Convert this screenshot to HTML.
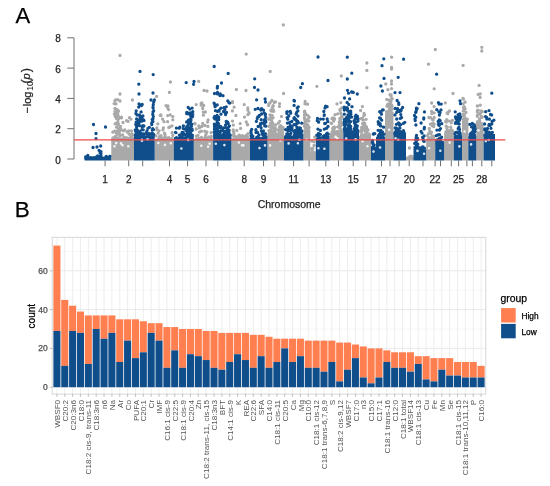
<!DOCTYPE html><html><head><meta charset="utf-8"><style>html,body{margin:0;padding:0;background:#fff;width:550px;height:486px;overflow:hidden;position:relative}</style></head><body><svg width="550" height="486" viewBox="0 0 550 486" style="position:absolute;left:0;top:0;will-change:transform;filter:blur(0.35px);font-family:'Liberation Sans', sans-serif"><rect width="550" height="486" fill="#fff"/><text x="15.4" y="22.9" font-size="22" fill="#000" stroke="#000" stroke-width="0.25">A</text><text x="14.8" y="217.4" font-size="22.5" fill="#000" stroke="#000" stroke-width="0.25">B</text><line x1="52.2" x2="485.8" y1="367.80" y2="367.80" stroke="#F2F2F2" stroke-width="0.6"/><line x1="52.2" x2="485.8" y1="329.00" y2="329.00" stroke="#F2F2F2" stroke-width="0.6"/><line x1="52.2" x2="485.8" y1="290.20" y2="290.20" stroke="#F2F2F2" stroke-width="0.6"/><line x1="52.2" x2="485.8" y1="251.40" y2="251.40" stroke="#F2F2F2" stroke-width="0.6"/><line x1="52.2" x2="485.8" y1="387.20" y2="387.20" stroke="#E6E6E6" stroke-width="0.9"/><line x1="52.2" x2="485.8" y1="348.40" y2="348.40" stroke="#E6E6E6" stroke-width="0.9"/><line x1="52.2" x2="485.8" y1="309.60" y2="309.60" stroke="#E6E6E6" stroke-width="0.9"/><line x1="52.2" x2="485.8" y1="270.80" y2="270.80" stroke="#E6E6E6" stroke-width="0.9"/><line x1="56.91" x2="56.91" y1="237.3" y2="394.1" stroke="#EBEBEB" stroke-width="0.9"/><line x1="64.77" x2="64.77" y1="237.3" y2="394.1" stroke="#EBEBEB" stroke-width="0.9"/><line x1="72.62" x2="72.62" y1="237.3" y2="394.1" stroke="#EBEBEB" stroke-width="0.9"/><line x1="80.48" x2="80.48" y1="237.3" y2="394.1" stroke="#EBEBEB" stroke-width="0.9"/><line x1="88.33" x2="88.33" y1="237.3" y2="394.1" stroke="#EBEBEB" stroke-width="0.9"/><line x1="96.19" x2="96.19" y1="237.3" y2="394.1" stroke="#EBEBEB" stroke-width="0.9"/><line x1="104.04" x2="104.04" y1="237.3" y2="394.1" stroke="#EBEBEB" stroke-width="0.9"/><line x1="111.90" x2="111.90" y1="237.3" y2="394.1" stroke="#EBEBEB" stroke-width="0.9"/><line x1="119.75" x2="119.75" y1="237.3" y2="394.1" stroke="#EBEBEB" stroke-width="0.9"/><line x1="127.61" x2="127.61" y1="237.3" y2="394.1" stroke="#EBEBEB" stroke-width="0.9"/><line x1="135.46" x2="135.46" y1="237.3" y2="394.1" stroke="#EBEBEB" stroke-width="0.9"/><line x1="143.32" x2="143.32" y1="237.3" y2="394.1" stroke="#EBEBEB" stroke-width="0.9"/><line x1="151.17" x2="151.17" y1="237.3" y2="394.1" stroke="#EBEBEB" stroke-width="0.9"/><line x1="159.03" x2="159.03" y1="237.3" y2="394.1" stroke="#EBEBEB" stroke-width="0.9"/><line x1="166.88" x2="166.88" y1="237.3" y2="394.1" stroke="#EBEBEB" stroke-width="0.9"/><line x1="174.74" x2="174.74" y1="237.3" y2="394.1" stroke="#EBEBEB" stroke-width="0.9"/><line x1="182.59" x2="182.59" y1="237.3" y2="394.1" stroke="#EBEBEB" stroke-width="0.9"/><line x1="190.45" x2="190.45" y1="237.3" y2="394.1" stroke="#EBEBEB" stroke-width="0.9"/><line x1="198.30" x2="198.30" y1="237.3" y2="394.1" stroke="#EBEBEB" stroke-width="0.9"/><line x1="206.16" x2="206.16" y1="237.3" y2="394.1" stroke="#EBEBEB" stroke-width="0.9"/><line x1="214.01" x2="214.01" y1="237.3" y2="394.1" stroke="#EBEBEB" stroke-width="0.9"/><line x1="221.87" x2="221.87" y1="237.3" y2="394.1" stroke="#EBEBEB" stroke-width="0.9"/><line x1="229.72" x2="229.72" y1="237.3" y2="394.1" stroke="#EBEBEB" stroke-width="0.9"/><line x1="237.58" x2="237.58" y1="237.3" y2="394.1" stroke="#EBEBEB" stroke-width="0.9"/><line x1="245.43" x2="245.43" y1="237.3" y2="394.1" stroke="#EBEBEB" stroke-width="0.9"/><line x1="253.29" x2="253.29" y1="237.3" y2="394.1" stroke="#EBEBEB" stroke-width="0.9"/><line x1="261.14" x2="261.14" y1="237.3" y2="394.1" stroke="#EBEBEB" stroke-width="0.9"/><line x1="269.00" x2="269.00" y1="237.3" y2="394.1" stroke="#EBEBEB" stroke-width="0.9"/><line x1="276.86" x2="276.86" y1="237.3" y2="394.1" stroke="#EBEBEB" stroke-width="0.9"/><line x1="284.71" x2="284.71" y1="237.3" y2="394.1" stroke="#EBEBEB" stroke-width="0.9"/><line x1="292.57" x2="292.57" y1="237.3" y2="394.1" stroke="#EBEBEB" stroke-width="0.9"/><line x1="300.42" x2="300.42" y1="237.3" y2="394.1" stroke="#EBEBEB" stroke-width="0.9"/><line x1="308.28" x2="308.28" y1="237.3" y2="394.1" stroke="#EBEBEB" stroke-width="0.9"/><line x1="316.13" x2="316.13" y1="237.3" y2="394.1" stroke="#EBEBEB" stroke-width="0.9"/><line x1="323.99" x2="323.99" y1="237.3" y2="394.1" stroke="#EBEBEB" stroke-width="0.9"/><line x1="331.84" x2="331.84" y1="237.3" y2="394.1" stroke="#EBEBEB" stroke-width="0.9"/><line x1="339.70" x2="339.70" y1="237.3" y2="394.1" stroke="#EBEBEB" stroke-width="0.9"/><line x1="347.55" x2="347.55" y1="237.3" y2="394.1" stroke="#EBEBEB" stroke-width="0.9"/><line x1="355.41" x2="355.41" y1="237.3" y2="394.1" stroke="#EBEBEB" stroke-width="0.9"/><line x1="363.26" x2="363.26" y1="237.3" y2="394.1" stroke="#EBEBEB" stroke-width="0.9"/><line x1="371.12" x2="371.12" y1="237.3" y2="394.1" stroke="#EBEBEB" stroke-width="0.9"/><line x1="378.97" x2="378.97" y1="237.3" y2="394.1" stroke="#EBEBEB" stroke-width="0.9"/><line x1="386.83" x2="386.83" y1="237.3" y2="394.1" stroke="#EBEBEB" stroke-width="0.9"/><line x1="394.68" x2="394.68" y1="237.3" y2="394.1" stroke="#EBEBEB" stroke-width="0.9"/><line x1="402.54" x2="402.54" y1="237.3" y2="394.1" stroke="#EBEBEB" stroke-width="0.9"/><line x1="410.39" x2="410.39" y1="237.3" y2="394.1" stroke="#EBEBEB" stroke-width="0.9"/><line x1="418.25" x2="418.25" y1="237.3" y2="394.1" stroke="#EBEBEB" stroke-width="0.9"/><line x1="426.10" x2="426.10" y1="237.3" y2="394.1" stroke="#EBEBEB" stroke-width="0.9"/><line x1="433.96" x2="433.96" y1="237.3" y2="394.1" stroke="#EBEBEB" stroke-width="0.9"/><line x1="441.81" x2="441.81" y1="237.3" y2="394.1" stroke="#EBEBEB" stroke-width="0.9"/><line x1="449.67" x2="449.67" y1="237.3" y2="394.1" stroke="#EBEBEB" stroke-width="0.9"/><line x1="457.52" x2="457.52" y1="237.3" y2="394.1" stroke="#EBEBEB" stroke-width="0.9"/><line x1="465.38" x2="465.38" y1="237.3" y2="394.1" stroke="#EBEBEB" stroke-width="0.9"/><line x1="473.23" x2="473.23" y1="237.3" y2="394.1" stroke="#EBEBEB" stroke-width="0.9"/><line x1="481.09" x2="481.09" y1="237.3" y2="394.1" stroke="#EBEBEB" stroke-width="0.9"/><rect x="53.38" y="245.58" width="7.07" height="85.36" fill="#FF7F50"/><rect x="53.38" y="330.94" width="7.07" height="56.26" fill="#104E8B"/><rect x="61.23" y="299.90" width="7.07" height="65.96" fill="#FF7F50"/><rect x="61.23" y="365.86" width="7.07" height="21.34" fill="#104E8B"/><rect x="69.09" y="305.72" width="7.07" height="25.22" fill="#FF7F50"/><rect x="69.09" y="330.94" width="7.07" height="56.26" fill="#104E8B"/><rect x="76.94" y="311.54" width="7.07" height="21.34" fill="#FF7F50"/><rect x="76.94" y="332.88" width="7.07" height="54.32" fill="#104E8B"/><rect x="84.80" y="315.42" width="7.07" height="48.50" fill="#FF7F50"/><rect x="84.80" y="363.92" width="7.07" height="23.28" fill="#104E8B"/><rect x="92.65" y="315.42" width="7.07" height="13.58" fill="#FF7F50"/><rect x="92.65" y="329.00" width="7.07" height="58.20" fill="#104E8B"/><rect x="100.51" y="315.42" width="7.07" height="23.28" fill="#FF7F50"/><rect x="100.51" y="338.70" width="7.07" height="48.50" fill="#104E8B"/><rect x="108.36" y="315.42" width="7.07" height="17.46" fill="#FF7F50"/><rect x="108.36" y="332.88" width="7.07" height="54.32" fill="#104E8B"/><rect x="116.22" y="319.30" width="7.07" height="42.68" fill="#FF7F50"/><rect x="116.22" y="361.98" width="7.07" height="25.22" fill="#104E8B"/><rect x="124.07" y="319.30" width="7.07" height="21.34" fill="#FF7F50"/><rect x="124.07" y="340.64" width="7.07" height="46.56" fill="#104E8B"/><rect x="131.93" y="319.30" width="7.07" height="38.80" fill="#FF7F50"/><rect x="131.93" y="358.10" width="7.07" height="29.10" fill="#104E8B"/><rect x="139.78" y="321.24" width="7.07" height="31.04" fill="#FF7F50"/><rect x="139.78" y="352.28" width="7.07" height="34.92" fill="#104E8B"/><rect x="147.64" y="323.18" width="7.07" height="9.70" fill="#FF7F50"/><rect x="147.64" y="332.88" width="7.07" height="54.32" fill="#104E8B"/><rect x="155.49" y="323.18" width="7.07" height="17.46" fill="#FF7F50"/><rect x="155.49" y="340.64" width="7.07" height="46.56" fill="#104E8B"/><rect x="163.35" y="327.06" width="7.07" height="40.74" fill="#FF7F50"/><rect x="163.35" y="367.80" width="7.07" height="19.40" fill="#104E8B"/><rect x="171.20" y="327.06" width="7.07" height="23.28" fill="#FF7F50"/><rect x="171.20" y="350.34" width="7.07" height="36.86" fill="#104E8B"/><rect x="179.06" y="329.00" width="7.07" height="38.80" fill="#FF7F50"/><rect x="179.06" y="367.80" width="7.07" height="19.40" fill="#104E8B"/><rect x="186.91" y="329.00" width="7.07" height="25.22" fill="#FF7F50"/><rect x="186.91" y="354.22" width="7.07" height="32.98" fill="#104E8B"/><rect x="194.77" y="329.00" width="7.07" height="27.16" fill="#FF7F50"/><rect x="194.77" y="356.16" width="7.07" height="31.04" fill="#104E8B"/><rect x="202.62" y="330.94" width="7.07" height="29.10" fill="#FF7F50"/><rect x="202.62" y="360.04" width="7.07" height="27.16" fill="#104E8B"/><rect x="210.48" y="330.94" width="7.07" height="36.86" fill="#FF7F50"/><rect x="210.48" y="367.80" width="7.07" height="19.40" fill="#104E8B"/><rect x="218.33" y="332.88" width="7.07" height="36.86" fill="#FF7F50"/><rect x="218.33" y="369.74" width="7.07" height="17.46" fill="#104E8B"/><rect x="226.19" y="332.88" width="7.07" height="29.10" fill="#FF7F50"/><rect x="226.19" y="361.98" width="7.07" height="25.22" fill="#104E8B"/><rect x="234.04" y="332.88" width="7.07" height="21.34" fill="#FF7F50"/><rect x="234.04" y="354.22" width="7.07" height="32.98" fill="#104E8B"/><rect x="241.90" y="332.88" width="7.07" height="27.16" fill="#FF7F50"/><rect x="241.90" y="360.04" width="7.07" height="27.16" fill="#104E8B"/><rect x="249.76" y="334.82" width="7.07" height="32.98" fill="#FF7F50"/><rect x="249.76" y="367.80" width="7.07" height="19.40" fill="#104E8B"/><rect x="257.61" y="334.82" width="7.07" height="21.34" fill="#FF7F50"/><rect x="257.61" y="356.16" width="7.07" height="31.04" fill="#104E8B"/><rect x="265.47" y="336.76" width="7.07" height="31.04" fill="#FF7F50"/><rect x="265.47" y="367.80" width="7.07" height="19.40" fill="#104E8B"/><rect x="273.32" y="338.70" width="7.07" height="23.28" fill="#FF7F50"/><rect x="273.32" y="361.98" width="7.07" height="25.22" fill="#104E8B"/><rect x="281.18" y="338.70" width="7.07" height="9.70" fill="#FF7F50"/><rect x="281.18" y="348.40" width="7.07" height="38.80" fill="#104E8B"/><rect x="289.03" y="338.70" width="7.07" height="23.28" fill="#FF7F50"/><rect x="289.03" y="361.98" width="7.07" height="25.22" fill="#104E8B"/><rect x="296.89" y="338.70" width="7.07" height="17.46" fill="#FF7F50"/><rect x="296.89" y="356.16" width="7.07" height="31.04" fill="#104E8B"/><rect x="304.74" y="340.64" width="7.07" height="27.16" fill="#FF7F50"/><rect x="304.74" y="367.80" width="7.07" height="19.40" fill="#104E8B"/><rect x="312.60" y="340.64" width="7.07" height="27.16" fill="#FF7F50"/><rect x="312.60" y="367.80" width="7.07" height="19.40" fill="#104E8B"/><rect x="320.45" y="340.64" width="7.07" height="31.04" fill="#FF7F50"/><rect x="320.45" y="371.68" width="7.07" height="15.52" fill="#104E8B"/><rect x="328.31" y="340.64" width="7.07" height="21.34" fill="#FF7F50"/><rect x="328.31" y="361.98" width="7.07" height="25.22" fill="#104E8B"/><rect x="336.16" y="342.58" width="7.07" height="38.80" fill="#FF7F50"/><rect x="336.16" y="381.38" width="7.07" height="5.82" fill="#104E8B"/><rect x="344.02" y="342.58" width="7.07" height="27.16" fill="#FF7F50"/><rect x="344.02" y="369.74" width="7.07" height="17.46" fill="#104E8B"/><rect x="351.87" y="344.52" width="7.07" height="13.58" fill="#FF7F50"/><rect x="351.87" y="358.10" width="7.07" height="29.10" fill="#104E8B"/><rect x="359.73" y="346.46" width="7.07" height="31.04" fill="#FF7F50"/><rect x="359.73" y="377.50" width="7.07" height="9.70" fill="#104E8B"/><rect x="367.58" y="348.40" width="7.07" height="34.92" fill="#FF7F50"/><rect x="367.58" y="383.32" width="7.07" height="3.88" fill="#104E8B"/><rect x="375.44" y="348.40" width="7.07" height="29.10" fill="#FF7F50"/><rect x="375.44" y="377.50" width="7.07" height="9.70" fill="#104E8B"/><rect x="383.29" y="350.34" width="7.07" height="11.64" fill="#FF7F50"/><rect x="383.29" y="361.98" width="7.07" height="25.22" fill="#104E8B"/><rect x="391.15" y="352.28" width="7.07" height="15.52" fill="#FF7F50"/><rect x="391.15" y="367.80" width="7.07" height="19.40" fill="#104E8B"/><rect x="399.00" y="352.28" width="7.07" height="15.52" fill="#FF7F50"/><rect x="399.00" y="367.80" width="7.07" height="19.40" fill="#104E8B"/><rect x="406.86" y="352.28" width="7.07" height="19.40" fill="#FF7F50"/><rect x="406.86" y="371.68" width="7.07" height="15.52" fill="#104E8B"/><rect x="414.71" y="356.16" width="7.07" height="7.76" fill="#FF7F50"/><rect x="414.71" y="363.92" width="7.07" height="23.28" fill="#104E8B"/><rect x="422.57" y="356.16" width="7.07" height="23.28" fill="#FF7F50"/><rect x="422.57" y="379.44" width="7.07" height="7.76" fill="#104E8B"/><rect x="430.42" y="358.10" width="7.07" height="23.28" fill="#FF7F50"/><rect x="430.42" y="381.38" width="7.07" height="5.82" fill="#104E8B"/><rect x="438.28" y="358.10" width="7.07" height="11.64" fill="#FF7F50"/><rect x="438.28" y="369.74" width="7.07" height="17.46" fill="#104E8B"/><rect x="446.13" y="358.10" width="7.07" height="17.46" fill="#FF7F50"/><rect x="446.13" y="375.56" width="7.07" height="11.64" fill="#104E8B"/><rect x="453.99" y="361.98" width="7.07" height="13.58" fill="#FF7F50"/><rect x="453.99" y="375.56" width="7.07" height="11.64" fill="#104E8B"/><rect x="461.84" y="361.98" width="7.07" height="15.52" fill="#FF7F50"/><rect x="461.84" y="377.50" width="7.07" height="9.70" fill="#104E8B"/><rect x="469.70" y="361.98" width="7.07" height="15.52" fill="#FF7F50"/><rect x="469.70" y="377.50" width="7.07" height="9.70" fill="#104E8B"/><rect x="477.55" y="365.86" width="7.07" height="11.64" fill="#FF7F50"/><rect x="477.55" y="377.50" width="7.07" height="9.70" fill="#104E8B"/><rect x="52.2" y="237.3" width="433.60" height="156.80" fill="none" stroke="#D2D2D2" stroke-width="0.9"/><line x1="49.900000000000006" x2="52.2" y1="387.20" y2="387.20" stroke="#B3B3B3" stroke-width="0.9"/><text x="47.7" y="390.20" font-size="8.5" fill="#4D4D4D" text-anchor="end" stroke="#4D4D4D" stroke-width="0.25">0</text><line x1="49.900000000000006" x2="52.2" y1="348.40" y2="348.40" stroke="#B3B3B3" stroke-width="0.9"/><text x="47.7" y="351.40" font-size="8.5" fill="#4D4D4D" text-anchor="end" stroke="#4D4D4D" stroke-width="0.25">20</text><line x1="49.900000000000006" x2="52.2" y1="309.60" y2="309.60" stroke="#B3B3B3" stroke-width="0.9"/><text x="47.7" y="312.60" font-size="8.5" fill="#4D4D4D" text-anchor="end" stroke="#4D4D4D" stroke-width="0.25">40</text><line x1="49.900000000000006" x2="52.2" y1="270.80" y2="270.80" stroke="#B3B3B3" stroke-width="0.9"/><text x="47.7" y="273.80" font-size="8.5" fill="#4D4D4D" text-anchor="end" stroke="#4D4D4D" stroke-width="0.25">60</text><line x1="56.91" x2="56.91" y1="394.1" y2="396.70000000000005" stroke="#B3B3B3" stroke-width="0.9"/><text transform="translate(60.01,399.9) rotate(-90)" font-size="8.1" fill="#555" text-anchor="end">WBSF0</text><line x1="64.77" x2="64.77" y1="394.1" y2="396.70000000000005" stroke="#B3B3B3" stroke-width="0.9"/><text transform="translate(67.87,399.9) rotate(-90)" font-size="8.1" fill="#555" text-anchor="end">C20:2</text><line x1="72.62" x2="72.62" y1="394.1" y2="396.70000000000005" stroke="#B3B3B3" stroke-width="0.9"/><text transform="translate(75.72,399.9) rotate(-90)" font-size="8.1" fill="#555" text-anchor="end">C20:3n6</text><line x1="80.48" x2="80.48" y1="394.1" y2="396.70000000000005" stroke="#B3B3B3" stroke-width="0.9"/><text transform="translate(83.58,399.9) rotate(-90)" font-size="8.1" fill="#555" text-anchor="end">C18:0</text><line x1="88.33" x2="88.33" y1="394.1" y2="396.70000000000005" stroke="#B3B3B3" stroke-width="0.9"/><text transform="translate(91.43,399.9) rotate(-90)" font-size="8.1" fill="#555" text-anchor="end">C18:2 cis-9, trans-11</text><line x1="96.19" x2="96.19" y1="394.1" y2="396.70000000000005" stroke="#B3B3B3" stroke-width="0.9"/><text transform="translate(99.29,399.9) rotate(-90)" font-size="8.1" fill="#555" text-anchor="end">C18:3n6</text><line x1="104.04" x2="104.04" y1="394.1" y2="396.70000000000005" stroke="#B3B3B3" stroke-width="0.9"/><text transform="translate(107.14,399.9) rotate(-90)" font-size="8.1" fill="#555" text-anchor="end">n6</text><line x1="111.90" x2="111.90" y1="394.1" y2="396.70000000000005" stroke="#B3B3B3" stroke-width="0.9"/><text transform="translate(115.00,399.9) rotate(-90)" font-size="8.1" fill="#555" text-anchor="end">Na</text><line x1="119.75" x2="119.75" y1="394.1" y2="396.70000000000005" stroke="#B3B3B3" stroke-width="0.9"/><text transform="translate(122.85,399.9) rotate(-90)" font-size="8.1" fill="#555" text-anchor="end">Ar</text><line x1="127.61" x2="127.61" y1="394.1" y2="396.70000000000005" stroke="#B3B3B3" stroke-width="0.9"/><text transform="translate(130.71,399.9) rotate(-90)" font-size="8.1" fill="#555" text-anchor="end">Co</text><line x1="135.46" x2="135.46" y1="394.1" y2="396.70000000000005" stroke="#B3B3B3" stroke-width="0.9"/><text transform="translate(138.56,399.9) rotate(-90)" font-size="8.1" fill="#555" text-anchor="end">PUFA</text><line x1="143.32" x2="143.32" y1="394.1" y2="396.70000000000005" stroke="#B3B3B3" stroke-width="0.9"/><text transform="translate(146.42,399.9) rotate(-90)" font-size="8.1" fill="#555" text-anchor="end">C20:1</text><line x1="151.17" x2="151.17" y1="394.1" y2="396.70000000000005" stroke="#B3B3B3" stroke-width="0.9"/><text transform="translate(154.27,399.9) rotate(-90)" font-size="8.1" fill="#555" text-anchor="end">Cr</text><line x1="159.03" x2="159.03" y1="394.1" y2="396.70000000000005" stroke="#B3B3B3" stroke-width="0.9"/><text transform="translate(162.13,399.9) rotate(-90)" font-size="8.1" fill="#555" text-anchor="end">IMF</text><line x1="166.88" x2="166.88" y1="394.1" y2="396.70000000000005" stroke="#B3B3B3" stroke-width="0.9"/><text transform="translate(169.98,399.9) rotate(-90)" font-size="8.1" fill="#555" text-anchor="end">C16:1 cis-9</text><line x1="174.74" x2="174.74" y1="394.1" y2="396.70000000000005" stroke="#B3B3B3" stroke-width="0.9"/><text transform="translate(177.84,399.9) rotate(-90)" font-size="8.1" fill="#555" text-anchor="end">C22:5</text><line x1="182.59" x2="182.59" y1="394.1" y2="396.70000000000005" stroke="#B3B3B3" stroke-width="0.9"/><text transform="translate(185.69,399.9) rotate(-90)" font-size="8.1" fill="#555" text-anchor="end">C18:1 cis-9</text><line x1="190.45" x2="190.45" y1="394.1" y2="396.70000000000005" stroke="#B3B3B3" stroke-width="0.9"/><text transform="translate(193.55,399.9) rotate(-90)" font-size="8.1" fill="#555" text-anchor="end">C20:4</text><line x1="198.30" x2="198.30" y1="394.1" y2="396.70000000000005" stroke="#B3B3B3" stroke-width="0.9"/><text transform="translate(201.40,399.9) rotate(-90)" font-size="8.1" fill="#555" text-anchor="end">Zn</text><line x1="206.16" x2="206.16" y1="394.1" y2="396.70000000000005" stroke="#B3B3B3" stroke-width="0.9"/><text transform="translate(209.26,399.9) rotate(-90)" font-size="8.1" fill="#555" text-anchor="end">C18:2 trans-11, cis-15</text><line x1="214.01" x2="214.01" y1="394.1" y2="396.70000000000005" stroke="#B3B3B3" stroke-width="0.9"/><text transform="translate(217.11,399.9) rotate(-90)" font-size="8.1" fill="#555" text-anchor="end">C18:3n3</text><line x1="221.87" x2="221.87" y1="394.1" y2="396.70000000000005" stroke="#B3B3B3" stroke-width="0.9"/><text transform="translate(224.97,399.9) rotate(-90)" font-size="8.1" fill="#555" text-anchor="end">BFT</text><line x1="229.72" x2="229.72" y1="394.1" y2="396.70000000000005" stroke="#B3B3B3" stroke-width="0.9"/><text transform="translate(232.82,399.9) rotate(-90)" font-size="8.1" fill="#555" text-anchor="end">C14:1 cis-9</text><line x1="237.58" x2="237.58" y1="394.1" y2="396.70000000000005" stroke="#B3B3B3" stroke-width="0.9"/><text transform="translate(240.68,399.9) rotate(-90)" font-size="8.1" fill="#555" text-anchor="end">K</text><line x1="245.43" x2="245.43" y1="394.1" y2="396.70000000000005" stroke="#B3B3B3" stroke-width="0.9"/><text transform="translate(248.53,399.9) rotate(-90)" font-size="8.1" fill="#555" text-anchor="end">REA</text><line x1="253.29" x2="253.29" y1="394.1" y2="396.70000000000005" stroke="#B3B3B3" stroke-width="0.9"/><text transform="translate(256.39,399.9) rotate(-90)" font-size="8.1" fill="#555" text-anchor="end">C22:6</text><line x1="261.14" x2="261.14" y1="394.1" y2="396.70000000000005" stroke="#B3B3B3" stroke-width="0.9"/><text transform="translate(264.24,399.9) rotate(-90)" font-size="8.1" fill="#555" text-anchor="end">SFA</text><line x1="269.00" x2="269.00" y1="394.1" y2="396.70000000000005" stroke="#B3B3B3" stroke-width="0.9"/><text transform="translate(272.10,399.9) rotate(-90)" font-size="8.1" fill="#555" text-anchor="end">C14:0</text><line x1="276.86" x2="276.86" y1="394.1" y2="396.70000000000005" stroke="#B3B3B3" stroke-width="0.9"/><text transform="translate(279.96,399.9) rotate(-90)" font-size="8.1" fill="#555" text-anchor="end">C18:1 cis-11</text><line x1="284.71" x2="284.71" y1="394.1" y2="396.70000000000005" stroke="#B3B3B3" stroke-width="0.9"/><text transform="translate(287.81,399.9) rotate(-90)" font-size="8.1" fill="#555" text-anchor="end">C20:5</text><line x1="292.57" x2="292.57" y1="394.1" y2="396.70000000000005" stroke="#B3B3B3" stroke-width="0.9"/><text transform="translate(295.67,399.9) rotate(-90)" font-size="8.1" fill="#555" text-anchor="end">Ca</text><line x1="300.42" x2="300.42" y1="394.1" y2="396.70000000000005" stroke="#B3B3B3" stroke-width="0.9"/><text transform="translate(303.52,399.9) rotate(-90)" font-size="8.1" fill="#555" text-anchor="end">Mg</text><line x1="308.28" x2="308.28" y1="394.1" y2="396.70000000000005" stroke="#B3B3B3" stroke-width="0.9"/><text transform="translate(311.38,399.9) rotate(-90)" font-size="8.1" fill="#555" text-anchor="end">C10:0</text><line x1="316.13" x2="316.13" y1="394.1" y2="396.70000000000005" stroke="#B3B3B3" stroke-width="0.9"/><text transform="translate(319.23,399.9) rotate(-90)" font-size="8.1" fill="#555" text-anchor="end">C18:1 cis-12</text><line x1="323.99" x2="323.99" y1="394.1" y2="396.70000000000005" stroke="#B3B3B3" stroke-width="0.9"/><text transform="translate(327.09,399.9) rotate(-90)" font-size="8.1" fill="#555" text-anchor="end">C18:1 trans-6,7,8,9</text><line x1="331.84" x2="331.84" y1="394.1" y2="396.70000000000005" stroke="#B3B3B3" stroke-width="0.9"/><text transform="translate(334.94,399.9) rotate(-90)" font-size="8.1" fill="#555" text-anchor="end">S</text><line x1="339.70" x2="339.70" y1="394.1" y2="396.70000000000005" stroke="#B3B3B3" stroke-width="0.9"/><text transform="translate(342.80,399.9) rotate(-90)" font-size="8.1" fill="#555" text-anchor="end">C18:2 cis-9,12</text><line x1="347.55" x2="347.55" y1="394.1" y2="396.70000000000005" stroke="#B3B3B3" stroke-width="0.9"/><text transform="translate(350.65,399.9) rotate(-90)" font-size="8.1" fill="#555" text-anchor="end">WBSF7</text><line x1="355.41" x2="355.41" y1="394.1" y2="396.70000000000005" stroke="#B3B3B3" stroke-width="0.9"/><text transform="translate(358.51,399.9) rotate(-90)" font-size="8.1" fill="#555" text-anchor="end">C17:0</text><line x1="363.26" x2="363.26" y1="394.1" y2="396.70000000000005" stroke="#B3B3B3" stroke-width="0.9"/><text transform="translate(366.36,399.9) rotate(-90)" font-size="8.1" fill="#555" text-anchor="end">n3</text><line x1="371.12" x2="371.12" y1="394.1" y2="396.70000000000005" stroke="#B3B3B3" stroke-width="0.9"/><text transform="translate(374.22,399.9) rotate(-90)" font-size="8.1" fill="#555" text-anchor="end">C15:0</text><line x1="378.97" x2="378.97" y1="394.1" y2="396.70000000000005" stroke="#B3B3B3" stroke-width="0.9"/><text transform="translate(382.07,399.9) rotate(-90)" font-size="8.1" fill="#555" text-anchor="end">C17:1</text><line x1="386.83" x2="386.83" y1="394.1" y2="396.70000000000005" stroke="#B3B3B3" stroke-width="0.9"/><text transform="translate(389.93,399.9) rotate(-90)" font-size="8.1" fill="#555" text-anchor="end">C18:1 trans-16</text><line x1="394.68" x2="394.68" y1="394.1" y2="396.70000000000005" stroke="#B3B3B3" stroke-width="0.9"/><text transform="translate(397.78,399.9) rotate(-90)" font-size="8.1" fill="#555" text-anchor="end">C12:0</text><line x1="402.54" x2="402.54" y1="394.1" y2="396.70000000000005" stroke="#B3B3B3" stroke-width="0.9"/><text transform="translate(405.64,399.9) rotate(-90)" font-size="8.1" fill="#555" text-anchor="end">C18:1 total</text><line x1="410.39" x2="410.39" y1="394.1" y2="396.70000000000005" stroke="#B3B3B3" stroke-width="0.9"/><text transform="translate(413.49,399.9) rotate(-90)" font-size="8.1" fill="#555" text-anchor="end">WBSF14</text><line x1="418.25" x2="418.25" y1="394.1" y2="396.70000000000005" stroke="#B3B3B3" stroke-width="0.9"/><text transform="translate(421.35,399.9) rotate(-90)" font-size="8.1" fill="#555" text-anchor="end">C18:1 cis-13</text><line x1="426.10" x2="426.10" y1="394.1" y2="396.70000000000005" stroke="#B3B3B3" stroke-width="0.9"/><text transform="translate(429.20,399.9) rotate(-90)" font-size="8.1" fill="#555" text-anchor="end">Cu</text><line x1="433.96" x2="433.96" y1="394.1" y2="396.70000000000005" stroke="#B3B3B3" stroke-width="0.9"/><text transform="translate(437.06,399.9) rotate(-90)" font-size="8.1" fill="#555" text-anchor="end">Fe</text><line x1="441.81" x2="441.81" y1="394.1" y2="396.70000000000005" stroke="#B3B3B3" stroke-width="0.9"/><text transform="translate(444.91,399.9) rotate(-90)" font-size="8.1" fill="#555" text-anchor="end">Mn</text><line x1="449.67" x2="449.67" y1="394.1" y2="396.70000000000005" stroke="#B3B3B3" stroke-width="0.9"/><text transform="translate(452.77,399.9) rotate(-90)" font-size="8.1" fill="#555" text-anchor="end">Se</text><line x1="457.52" x2="457.52" y1="394.1" y2="396.70000000000005" stroke="#B3B3B3" stroke-width="0.9"/><text transform="translate(460.62,399.9) rotate(-90)" font-size="8.1" fill="#555" text-anchor="end">C18:1 cis-15</text><line x1="465.38" x2="465.38" y1="394.1" y2="396.70000000000005" stroke="#B3B3B3" stroke-width="0.9"/><text transform="translate(468.48,399.9) rotate(-90)" font-size="8.1" fill="#555" text-anchor="end">C18:1 trans-10,11,12</text><line x1="473.23" x2="473.23" y1="394.1" y2="396.70000000000005" stroke="#B3B3B3" stroke-width="0.9"/><text transform="translate(476.33,399.9) rotate(-90)" font-size="8.1" fill="#555" text-anchor="end">P</text><line x1="481.09" x2="481.09" y1="394.1" y2="396.70000000000005" stroke="#B3B3B3" stroke-width="0.9"/><text transform="translate(484.19,399.9) rotate(-90)" font-size="8.1" fill="#555" text-anchor="end">C16:0</text><text transform="translate(35.4,316.2) rotate(-90)" font-size="10" fill="#000" text-anchor="middle" stroke="#000" stroke-width="0.25">count</text><text x="500.5" y="301.8" font-size="10.4" fill="#000" stroke="#000" stroke-width="0.25">group</text><rect x="501.1" y="308.1" width="14.6" height="14.4" fill="#FF7F50"/><rect x="501.1" y="323.9" width="14.6" height="14.4" fill="#104E8B"/><text x="521.5" y="318.8" font-size="8.3" fill="#000" stroke="#000" stroke-width="0.25">High</text><text x="521.5" y="334.5" font-size="8.3" fill="#000" stroke="#000" stroke-width="0.25">Low</text><line x1="74" x2="74" y1="37.80" y2="159.00" stroke="#707070" stroke-width="1"/><line x1="67.3" x2="74" y1="159.00" y2="159.00" stroke="#707070" stroke-width="1"/><text x="58" y="163.60" font-size="10" fill="#222" text-anchor="middle" stroke="#222" stroke-width="0.25">0</text><line x1="67.3" x2="74" y1="128.70" y2="128.70" stroke="#707070" stroke-width="1"/><text x="58" y="133.30" font-size="10" fill="#222" text-anchor="middle" stroke="#222" stroke-width="0.25">2</text><line x1="67.3" x2="74" y1="98.40" y2="98.40" stroke="#707070" stroke-width="1"/><text x="58" y="103.00" font-size="10" fill="#222" text-anchor="middle" stroke="#222" stroke-width="0.25">4</text><line x1="67.3" x2="74" y1="68.10" y2="68.10" stroke="#707070" stroke-width="1"/><text x="58" y="72.70" font-size="10" fill="#222" text-anchor="middle" stroke="#222" stroke-width="0.25">6</text><line x1="67.3" x2="74" y1="37.80" y2="37.80" stroke="#707070" stroke-width="1"/><text x="58" y="42.40" font-size="10" fill="#222" text-anchor="middle" stroke="#222" stroke-width="0.25">8</text><g font-size="11" fill="#222" stroke="#222" stroke-width="0.25"><text transform="translate(31,113.6) rotate(-90)">&#8722;</text><text transform="translate(30.9,106.2) rotate(-90)">log</text><text transform="translate(32.9,90.8) rotate(-90)" font-size="8.6" stroke-width="0">10</text><text transform="translate(30.4,83.4) rotate(-90)" font-size="12.5">(</text><text transform="translate(30.4,79.6) rotate(-90)" font-style="italic">p</text><text transform="translate(30.4,72.2) rotate(-90)" font-size="12.5">)</text></g><path d="M111.3 140.1h22.7v20.3h-22.7zM113.0 140.1h7.0v20.3h-7.0zM154.7 139.3h19.1v21.1h-19.1zM193.8 139.3h19.3v21.1h-19.3zM231.4 137.8h18.6v22.6h-18.6zM267.5 133.3h9.5v27.1h-9.5zM277.0 133.3h7.0v27.1h-7.0zM303.4 129.5h6.9v30.9h-6.9zM310.3 153.7h5.5v6.7h-5.5zM329.5 133.3h13.8v27.1h-13.8zM359.0 135.9h12.0v24.5h-12.0zM385.0 114.3h8.5v46.1h-8.5zM406.0 158.0h8.0v2.4h-8.0zM426.2 138.6h9.0v21.8h-9.0zM444.1 132.5h9.7v27.9h-9.7zM462.0 121.2h6.3v39.2h-6.3zM476.3 125.0h7.3v35.4h-7.3z" fill="#A9A9A9"/><path d="M125.4 139.8h0M127.3 140.4h0M132.8 141.3h0M123.6 138.8h0M130.8 138.8h0M126.8 138.6h0M131.1 140.2h0M126.4 138.2h0M130.2 140.0h0M128.5 138.3h0M124.1 139.2h0M120.3 139.4h0M124.9 141.3h0M125.5 137.8h0M130.4 138.8h0M120.4 138.8h0M124.3 139.9h0M129.5 141.3h0M127.7 141.5h0M124.7 139.8h0M117.2 138.9h0M122.6 139.3h0M131.2 140.6h0M112.7 140.4h0M126.3 140.8h0M115.9 138.1h0M125.9 139.9h0M120.3 134.8h0M119.6 131.4h0M131.4 130.8h0M119.8 131.1h0M120.2 135.4h0M127.1 132.0h0M118.9 132.2h0M121.9 139.2h0M124.1 137.3h0M112.7 138.6h0M112.8 132.2h0M119.8 138.8h0M118.7 134.1h0M132.1 133.8h0M116.4 133.0h0M113.0 138.0h0M123.5 130.8h0M132.9 138.5h0M126.8 138.0h0M130.8 136.7h0M116.4 131.5h0M122.6 134.9h0M128.8 130.9h0M125.8 138.1h0M129.2 134.2h0M116.7 131.4h0M132.5 135.3h0M118.9 131.3h0M119.5 128.9h0M120.5 126.5h0M121.2 129.7h0M126.5 120.6h0M130.9 119.2h0M121.4 117.1h0M128.0 121.4h0M129.5 117.7h0M121.6 117.8h0M118.3 116.0h0M118.5 119.0h0M116.5 118.6h0M124.8 129.8h0M123.0 122.5h0M118.4 140.6h0M116.4 141.1h0M116.2 138.5h0M118.3 139.8h0M115.7 140.9h0M117.0 138.1h0M114.8 138.6h0M114.3 140.8h0M117.5 131.3h0M118.3 128.6h0M117.5 122.7h0M118.5 124.0h0M116.7 123.0h0M115.1 136.6h0M116.9 137.8h0M117.1 134.3h0M117.9 125.1h0M114.8 137.9h0M115.1 123.8h0M117.9 138.0h0M117.4 139.2h0M117.8 121.8h0M114.6 131.2h0M116.5 127.2h0M114.9 100.6h0M118.5 110.9h0M115.2 116.6h0M119.0 118.3h0M117.8 113.0h0M117.6 112.2h0M114.1 103.6h0M114.9 111.6h0M116.0 116.7h0M114.9 108.4h0M117.8 115.6h0M117.7 99.7h0M116.0 103.9h0M117.8 112.7h0M114.4 114.1h0M117.5 118.9h0M115.5 114.1h0M116.8 109.5h0M120.0 55.4h0M120.0 94.0h0M115.6 100.0h0M120.0 101.0h0M132.4 100.0h0M166.2 139.7h0M162.2 138.8h0M160.9 139.5h0M162.4 138.3h0M160.2 140.1h0M168.1 139.6h0M171.7 138.7h0M168.0 139.6h0M169.7 140.5h0M158.3 140.5h0M167.2 138.1h0M158.9 139.3h0M169.9 138.6h0M157.4 140.0h0M158.5 140.3h0M162.7 140.5h0M171.3 139.2h0M164.4 138.4h0M168.7 137.7h0M162.3 139.6h0M162.8 140.8h0M162.6 138.2h0M161.0 135.7h0M159.2 136.6h0M172.1 132.7h0M165.1 136.4h0M158.1 133.2h0M164.5 133.2h0M159.1 130.8h0M159.1 138.2h0M155.7 135.9h0M172.8 135.5h0M161.0 137.9h0M165.0 134.6h0M160.2 115.4h0M172.0 125.8h0M169.9 126.9h0M157.0 129.7h0M163.4 127.8h0M170.2 114.8h0M168.8 127.4h0M172.8 116.6h0M156.8 127.9h0M168.6 109.6h0M162.6 119.1h0M167.6 121.7h0M167.5 107.4h0M164.0 121.7h0M157.8 123.8h0M162.9 129.8h0M160.8 114.8h0M167.7 115.6h0M160.9 115.7h0M172.8 119.8h0M170.4 82.0h0M169.4 92.4h0M156.6 96.4h0M166.0 105.6h0M168.0 106.0h0M206.3 140.3h0M198.5 139.8h0M207.0 139.3h0M201.5 137.5h0M198.8 139.7h0M200.8 140.0h0M195.7 140.7h0M205.7 138.7h0M208.7 137.1h0M200.0 138.3h0M210.5 140.0h0M206.6 138.3h0M211.1 137.5h0M199.0 138.4h0M196.5 139.2h0M201.6 140.6h0M201.5 139.6h0M203.4 139.8h0M197.7 139.3h0M203.0 140.2h0M206.2 139.9h0M196.6 139.5h0M202.1 140.2h0M204.7 131.2h0M205.7 135.4h0M204.4 138.3h0M205.3 137.1h0M198.0 135.4h0M211.3 136.3h0M211.1 132.6h0M205.5 135.9h0M199.6 132.0h0M201.4 131.2h0M206.2 133.5h0M205.3 137.8h0M208.8 137.1h0M196.3 136.1h0M206.9 131.8h0M196.2 104.6h0M199.4 127.8h0M201.8 126.5h0M207.9 126.4h0M203.3 112.1h0M203.4 115.2h0M201.1 103.5h0M207.6 122.1h0M203.7 105.5h0M196.3 129.0h0M195.1 123.9h0M201.2 105.2h0M205.4 112.0h0M202.7 123.4h0M208.1 119.9h0M198.8 125.8h0M194.8 123.4h0M202.7 108.5h0M201.9 103.0h0M204.9 125.5h0M198.7 81.4h0M204.0 90.5h0M207.0 91.0h0M243.3 137.4h0M237.6 138.0h0M236.6 137.1h0M240.2 135.6h0M242.1 138.7h0M234.3 138.8h0M247.2 136.2h0M240.8 138.8h0M241.7 138.6h0M242.6 135.7h0M244.1 138.9h0M245.9 138.4h0M245.5 138.9h0M244.5 137.9h0M237.4 137.0h0M239.2 137.4h0M247.4 137.2h0M245.0 136.4h0M238.9 138.2h0M236.1 137.3h0M243.2 137.7h0M247.1 138.5h0M236.8 130.4h0M248.0 133.6h0M239.9 136.8h0M233.4 131.4h0M239.0 135.2h0M235.1 136.9h0M240.6 128.4h0M247.7 124.7h0M247.4 124.8h0M246.3 135.3h0M233.3 135.6h0M235.2 136.7h0M233.3 125.1h0M238.6 136.5h0M234.0 133.2h0M233.8 134.0h0M242.0 136.7h0M233.2 130.0h0M247.8 107.8h0M232.6 101.7h0M232.5 102.7h0M232.5 121.1h0M232.4 101.7h0M247.9 114.7h0M244.5 117.1h0M244.2 104.6h0M232.4 110.9h0M235.9 115.5h0M246.3 122.0h0M240.2 123.6h0M249.0 113.2h0M249.0 112.6h0M247.8 110.0h0M234.1 107.2h0M246.2 54.1h0M236.4 89.5h0M246.0 90.5h0M270.6 131.2h0M269.2 134.1h0M271.2 134.6h0M270.9 134.1h0M269.6 132.8h0M272.5 132.6h0M274.1 132.8h0M275.4 134.5h0M270.3 134.5h0M270.9 131.9h0M275.3 132.9h0M271.6 117.3h0M269.9 114.9h0M268.7 119.2h0M268.9 130.7h0M273.1 117.8h0M268.7 126.3h0M273.1 132.0h0M271.7 132.2h0M272.8 123.5h0M270.4 119.6h0M270.6 126.4h0M272.0 128.0h0M270.3 115.1h0M275.1 130.7h0M275.9 128.7h0M272.0 128.3h0M271.5 120.5h0M273.9 127.7h0M272.2 115.4h0M271.3 132.5h0M270.5 123.3h0M272.0 131.7h0M272.1 121.9h0M270.6 125.9h0M270.5 129.6h0M274.5 129.3h0M272.3 126.2h0M275.6 125.0h0M270.7 117.4h0M271.1 130.2h0M271.9 100.4h0M273.8 111.3h0M270.8 110.4h0M268.7 105.4h0M270.1 102.8h0M275.5 101.8h0M273.2 109.7h0M271.6 111.2h0M274.2 102.5h0M272.2 107.6h0M268.8 104.0h0M273.3 105.9h0M273.0 105.7h0M270.2 102.6h0M280.2 133.0h0M281.4 134.7h0M279.4 131.8h0M278.7 133.5h0M278.4 134.7h0M280.7 132.6h0M279.6 133.0h0M278.5 134.3h0M279.5 126.9h0M280.4 127.8h0M279.9 130.2h0M282.6 132.3h0M283.0 127.5h0M278.4 130.2h0M280.1 128.8h0M282.6 129.7h0M280.9 130.3h0M281.1 131.7h0M278.3 123.2h0M279.4 106.4h0M279.6 103.6h0M281.5 116.4h0M279.7 121.3h0M280.8 125.6h0M283.3 24.9h0M270.2 71.4h0M283.6 93.5h0M307.1 127.6h0M309.1 127.5h0M308.4 130.7h0M305.7 127.3h0M307.0 129.0h0M306.0 127.7h0M306.9 127.2h0M304.9 127.2h0M305.0 123.4h0M308.8 121.0h0M304.7 119.0h0M304.4 123.4h0M306.1 121.3h0M304.5 126.6h0M305.5 128.2h0M306.0 114.4h0M304.9 120.3h0M304.4 118.1h0M304.4 117.5h0M308.0 115.7h0M309.2 117.3h0M308.0 125.3h0M304.4 114.8h0M304.4 126.2h0M305.3 122.6h0M305.6 125.8h0M307.7 128.3h0M305.6 124.4h0M307.7 127.7h0M307.6 119.3h0M306.0 128.7h0M307.3 127.7h0M307.0 124.5h0M305.0 103.8h0M305.4 113.4h0M307.6 104.2h0M305.1 113.2h0M304.7 111.1h0M305.1 101.4h0M304.4 112.0h0M305.1 103.7h0M304.4 112.1h0M304.4 111.7h0M311.7 153.2h0M311.7 152.1h0M314.0 153.7h0M312.7 152.4h0M311.8 155.2h0M312.5 151.5h0M312.8 148.5h0M312.3 151.7h0M311.9 148.4h0M314.5 152.6h0M312.2 151.7h0M311.3 149.1h0M311.9 141.2h0M314.0 145.5h0M313.9 141.8h0M314.7 137.1h0M316.9 86.3h0M332.6 131.6h0M336.4 132.3h0M334.9 133.4h0M332.7 131.1h0M337.6 134.3h0M338.7 132.5h0M337.7 131.8h0M337.6 131.4h0M341.8 133.2h0M338.1 133.3h0M335.4 133.4h0M338.1 133.4h0M334.7 131.6h0M339.8 132.2h0M340.3 133.3h0M338.0 133.8h0M340.5 119.9h0M337.9 126.8h0M336.3 131.9h0M340.3 120.6h0M341.5 122.8h0M342.3 122.8h0M331.9 132.4h0M331.5 123.6h0M333.4 127.7h0M334.3 127.0h0M333.5 131.5h0M339.4 124.6h0M340.1 126.5h0M333.9 131.1h0M334.0 129.6h0M341.4 125.2h0M339.7 124.8h0M341.0 122.8h0M341.1 125.7h0M339.5 128.0h0M339.3 121.9h0M339.7 131.7h0M331.0 123.2h0M339.6 122.8h0M342.3 132.1h0M332.7 128.4h0M332.9 127.8h0M341.8 130.9h0M337.4 132.5h0M340.4 128.8h0M341.7 131.1h0M340.2 120.7h0M333.6 121.1h0M334.9 127.6h0M340.5 122.1h0M334.6 119.2h0M339.9 109.6h0M340.8 102.6h0M341.8 107.9h0M337.0 103.9h0M340.8 113.1h0M331.9 118.7h0M337.8 113.8h0M341.6 115.9h0M339.8 118.4h0M340.1 110.6h0M341.0 118.3h0M340.2 118.7h0M342.2 116.9h0M332.9 117.8h0M340.8 118.5h0M334.3 118.3h0M335.0 114.7h0M341.3 75.9h0M365.0 136.9h0M362.3 135.5h0M368.1 134.1h0M362.3 136.7h0M366.8 137.3h0M369.0 134.0h0M368.5 137.2h0M369.3 136.4h0M368.4 136.5h0M363.6 136.2h0M361.4 137.0h0M367.3 135.7h0M361.4 135.2h0M368.1 136.3h0M365.0 134.2h0M364.9 128.8h0M363.4 129.8h0M360.5 131.6h0M367.2 128.9h0M364.9 130.9h0M362.1 135.1h0M364.5 130.1h0M369.6 135.0h0M366.9 131.8h0M368.0 130.1h0M361.5 132.3h0M361.6 129.6h0M368.9 134.3h0M367.3 130.1h0M364.1 127.8h0M364.7 123.2h0M362.5 123.6h0M360.6 110.5h0M365.1 126.2h0M360.7 118.7h0M362.4 118.2h0M366.1 119.3h0M364.6 115.1h0M363.1 126.3h0M366.5 126.9h0M364.0 113.5h0M365.5 125.9h0M366.4 127.1h0M361.4 127.6h0M363.9 115.5h0M363.1 120.2h0M364.6 126.0h0M362.4 106.6h0M363.8 123.8h0M366.9 63.0h0M366.9 70.4h0M366.9 87.7h0M391.8 114.2h0M387.6 115.2h0M387.4 114.5h0M387.0 113.8h0M391.5 112.4h0M392.1 112.8h0M391.9 115.4h0M389.0 112.2h0M388.2 113.2h0M388.6 114.0h0M387.6 112.9h0M391.3 108.9h0M390.5 111.8h0M390.5 111.3h0M386.6 111.6h0M389.8 106.1h0M390.9 101.5h0M389.4 109.2h0M387.2 113.1h0M386.7 113.4h0M391.6 105.0h0M387.0 106.2h0M390.0 109.3h0M390.6 103.9h0M387.6 104.8h0M392.0 113.1h0M389.6 109.5h0M392.1 109.2h0M389.2 109.9h0M392.1 106.1h0M390.4 110.4h0M388.0 104.1h0M389.8 103.3h0M389.5 107.3h0M390.4 109.6h0M389.6 100.6h0M390.0 94.6h0M389.0 100.1h0M386.8 99.5h0M392.2 98.7h0M391.0 96.2h0M391.0 100.9h0M391.2 95.0h0M391.4 99.5h0M387.9 89.7h0M391.6 57.2h0M391.6 67.4h0M391.6 69.0h0M391.5 81.0h0M391.5 84.0h0M385.8 84.0h0M391.6 88.6h0M407.6 157.9h0M409.9 156.3h0M410.7 158.2h0M410.9 158.2h0M410.7 157.9h0M412.6 157.8h0M408.7 158.2h0M412.6 158.1h0M408.6 157.4h0M411.6 156.5h0M411.9 156.4h0M410.7 156.5h0M409.4 148.0h0M433.3 136.7h0M429.7 140.0h0M431.4 137.7h0M433.7 137.9h0M432.2 137.2h0M428.5 137.5h0M430.3 139.2h0M429.2 138.7h0M432.2 138.0h0M429.5 139.9h0M427.6 135.5h0M429.3 128.4h0M432.1 136.2h0M431.5 132.3h0M430.6 133.6h0M433.5 136.1h0M432.4 125.8h0M428.5 133.7h0M433.7 126.6h0M429.8 131.1h0M432.5 119.6h0M432.6 123.3h0M434.1 106.6h0M432.5 112.8h0M430.6 117.7h0M428.9 117.5h0M434.2 117.5h0M430.4 124.2h0M433.2 120.0h0M434.1 124.0h0M431.6 103.0h0M434.2 112.8h0M431.9 113.6h0M431.6 111.4h0M435.3 49.5h0M428.5 64.2h0M434.2 88.8h0M446.8 131.7h0M448.2 131.4h0M448.7 133.6h0M450.3 130.3h0M446.0 131.7h0M449.8 131.7h0M449.0 132.1h0M452.5 130.7h0M448.5 130.9h0M450.2 131.0h0M452.6 133.7h0M446.8 128.2h0M450.7 127.2h0M452.2 131.3h0M447.3 126.9h0M447.4 129.8h0M451.2 122.9h0M451.4 129.8h0M451.3 131.3h0M446.2 126.2h0M447.9 131.5h0M447.1 113.1h0M447.9 112.5h0M445.3 102.9h0M447.7 113.7h0M445.6 121.5h0M452.4 120.5h0M446.4 122.1h0M446.7 119.7h0M450.7 121.4h0M446.6 120.0h0M449.5 111.0h0M448.1 120.8h0M453.0 93.5h0M464.6 121.4h0M463.4 121.1h0M463.2 119.0h0M466.4 120.8h0M463.4 121.6h0M466.2 121.5h0M463.6 121.0h0M463.4 115.7h0M467.3 119.2h0M463.3 114.3h0M463.7 115.1h0M463.6 114.6h0M464.5 115.3h0M465.4 118.4h0M464.0 120.2h0M466.0 119.4h0M463.0 115.4h0M464.4 107.0h0M463.4 99.0h0M465.0 102.2h0M463.8 107.6h0M463.1 103.9h0M463.0 98.5h0M463.4 107.6h0M466.0 112.4h0M463.2 110.9h0M465.2 102.1h0M465.1 108.9h0M463.8 110.3h0M463.1 65.4h0M481.3 126.3h0M481.4 123.4h0M481.6 124.7h0M477.7 123.7h0M477.9 124.4h0M477.6 126.4h0M478.6 124.0h0M481.2 124.3h0M479.7 121.0h0M480.1 113.7h0M478.0 114.9h0M481.3 116.4h0M479.5 119.0h0M480.3 124.1h0M481.9 117.4h0M482.3 116.8h0M477.3 123.7h0M477.5 121.7h0M477.3 115.4h0M477.3 116.3h0M480.2 93.9h0M478.2 94.4h0M480.1 97.4h0M481.7 111.1h0M477.3 110.6h0M481.3 111.0h0M478.2 110.1h0M482.3 111.7h0M480.2 105.2h0M477.3 111.9h0M480.6 112.7h0M477.3 106.0h0M481.8 47.3h0M481.8 51.0h0M479.1 85.4h0" stroke="#A9A9A9" stroke-width="3.3" stroke-linecap="round" fill="none"/><path d="M84.6 158.6h26.7v1.8h-26.7zM94.0 158.0h8.0v2.4h-8.0zM134.0 135.9h11.0v24.5h-11.0zM145.0 135.9h5.5v24.5h-5.5zM150.5 135.9h4.2v24.5h-4.2zM173.8 140.1h4.2v20.3h-4.2zM178.0 137.1h6.8v23.3h-6.8zM184.8 134.0h9.0v26.4h-9.0zM213.1 134.3h8.9v26.1h-8.9zM222.0 134.3h9.4v26.1h-9.4zM250.0 138.6h4.0v21.8h-4.0zM254.0 137.8h13.5v22.6h-13.5zM284.0 135.6h9.0v24.8h-9.0zM293.0 134.0h10.4v26.4h-10.4zM315.8 140.1h6.2v20.3h-6.2zM322.0 138.6h7.5v21.8h-7.5zM343.3 130.3h9.7v30.1h-9.7zM353.0 130.3h6.0v30.1h-6.0zM371.0 146.8h5.0v13.6h-5.0zM376.0 137.1h9.0v23.3h-9.0zM393.5 132.5h12.5v27.9h-12.5zM413.5 146.2h6.5v14.2h-6.5zM420.0 149.2h6.2v11.2h-6.2zM435.2 141.6h8.9v18.8h-8.9zM453.8 135.6h8.2v24.8h-8.2zM468.3 135.9h8.0v24.5h-8.0zM483.6 134.0h11.4v26.4h-11.4z" fill="#104E8B"/><path d="M96.8 157.9h0M108.3 158.2h0M98.1 157.8h0M90.3 158.1h0M101.1 157.1h0M88.1 158.2h0M88.0 157.0h0M102.7 158.2h0M109.7 156.4h0M101.7 157.7h0M89.6 158.2h0M98.6 158.2h0M90.4 158.2h0M86.5 158.2h0M96.5 156.9h0M98.4 157.6h0M97.9 157.6h0M96.9 158.2h0M110.0 156.3h0M106.2 157.4h0M93.5 158.2h0M92.8 158.2h0M104.4 158.2h0M106.4 158.2h0M109.1 156.9h0M85.8 158.2h0M107.9 158.2h0M109.6 158.2h0M87.6 157.7h0M104.7 158.2h0M87.9 158.2h0M109.2 157.2h0M87.3 157.5h0M85.6 156.9h0M100.2 156.7h0M88.5 157.5h0M101.5 157.7h0M90.9 157.6h0M93.7 157.6h0M92.0 157.8h0M98.0 156.5h0M106.2 156.5h0M87.8 155.4h0M99.3 158.2h0M98.7 157.4h0M99.0 158.0h0M97.9 158.2h0M95.5 158.2h0M98.1 158.2h0M99.3 158.0h0M97.6 156.0h0M97.9 157.5h0M101.0 155.2h0M98.7 156.4h0M96.2 157.2h0M100.9 156.4h0M100.8 157.0h0M101.0 153.0h0M99.1 150.4h0M101.0 151.7h0M100.1 152.9h0M93.5 124.5h0M105.5 127.0h0M96.0 133.5h0M96.0 138.6h0M93.0 147.5h0M97.0 147.0h0M100.7 146.0h0M140.7 134.7h0M141.8 133.6h0M135.4 135.0h0M141.6 136.4h0M138.7 137.1h0M136.9 135.9h0M136.0 136.4h0M143.0 135.3h0M139.6 133.7h0M140.1 133.6h0M140.7 134.3h0M135.9 135.1h0M141.7 137.2h0M135.3 129.9h0M137.6 130.4h0M138.9 132.0h0M140.0 132.1h0M137.7 135.0h0M142.8 125.6h0M135.8 124.5h0M139.6 121.5h0M139.3 120.1h0M139.1 134.3h0M143.2 133.8h0M137.2 125.2h0M135.9 134.7h0M136.1 129.7h0M139.1 132.4h0M138.8 123.9h0M144.0 120.6h0M137.1 134.1h0M142.1 126.7h0M136.6 126.9h0M141.3 133.3h0M143.6 120.0h0M142.9 134.8h0M137.1 132.4h0M144.0 134.6h0M139.9 133.6h0M135.6 131.3h0M136.2 122.2h0M139.0 123.1h0M141.9 129.7h0M138.5 133.7h0M139.3 131.5h0M141.7 121.2h0M138.3 134.3h0M135.7 134.5h0M139.4 125.6h0M143.9 126.0h0M136.7 128.9h0M138.0 121.9h0M139.1 134.1h0M140.1 121.2h0M143.2 129.8h0M137.7 131.6h0M138.4 121.7h0M136.5 125.8h0M142.2 104.4h0M136.2 110.8h0M140.1 117.4h0M142.9 115.9h0M139.8 115.6h0M136.6 118.9h0M142.1 118.6h0M139.9 119.3h0M135.9 113.4h0M139.4 114.9h0M137.0 114.9h0M141.1 111.9h0M141.5 105.6h0M138.7 107.1h0M149.2 134.9h0M147.8 134.6h0M148.7 135.7h0M147.5 136.8h0M148.5 133.6h0M147.4 136.7h0M146.0 134.0h0M147.0 130.8h0M146.1 133.2h0M147.1 134.5h0M146.0 133.0h0M149.1 133.6h0M149.3 127.4h0M147.9 128.3h0M152.9 134.4h0M151.9 134.1h0M152.4 136.5h0M151.9 134.3h0M153.5 134.3h0M152.6 121.7h0M153.5 129.6h0M152.8 133.7h0M152.9 121.4h0M151.8 124.6h0M152.6 134.7h0M151.9 133.1h0M151.8 134.0h0M153.7 134.5h0M152.7 128.7h0M152.3 130.1h0M151.7 123.0h0M152.7 114.3h0M153.1 108.1h0M153.0 118.6h0M153.7 110.8h0M153.3 104.5h0M153.7 101.9h0M152.2 119.5h0M153.3 116.3h0M140.0 71.4h0M153.2 74.6h0M138.8 84.2h0M139.0 94.0h0M153.0 93.0h0M151.0 100.0h0M154.4 100.0h0M139.0 104.0h0M140.0 105.0h0M153.0 107.0h0M153.0 112.0h0M176.8 138.8h0M176.6 140.2h0M176.0 139.4h0M175.3 139.1h0M175.8 141.1h0M175.4 139.3h0M176.5 137.7h0M176.0 138.9h0M175.3 138.3h0M176.0 132.7h0M176.4 128.1h0M175.5 132.3h0M181.3 137.9h0M183.1 134.8h0M180.1 136.2h0M180.0 135.2h0M179.4 138.1h0M182.4 137.4h0M183.2 135.3h0M182.3 138.0h0M179.4 135.2h0M182.2 133.2h0M183.8 134.2h0M183.2 132.5h0M183.8 135.2h0M182.0 133.5h0M182.1 132.4h0M183.4 133.8h0M179.8 127.1h0M183.2 128.4h0M183.8 128.7h0M179.3 128.2h0M183.4 125.8h0M187.9 132.4h0M190.2 131.8h0M190.9 133.5h0M189.9 132.6h0M186.7 133.9h0M190.4 133.4h0M187.7 132.8h0M190.8 134.5h0M189.6 132.3h0M190.0 134.5h0M192.0 129.0h0M190.1 119.5h0M190.9 118.4h0M188.2 125.0h0M187.5 131.8h0M186.6 121.9h0M191.0 120.1h0M189.3 122.9h0M188.5 130.3h0M190.4 124.0h0M188.0 126.5h0M190.7 116.1h0M186.7 126.7h0M186.1 130.4h0M186.8 127.8h0M192.6 116.6h0M190.6 121.4h0M190.1 129.5h0M186.9 130.6h0M186.4 130.7h0M186.0 128.7h0M191.9 124.1h0M189.0 127.8h0M188.5 120.1h0M192.3 130.3h0M191.4 126.2h0M190.0 120.5h0M189.2 123.3h0M192.8 114.6h0M188.3 113.2h0M188.2 107.4h0M189.8 109.1h0M186.8 112.5h0M190.9 114.9h0M192.8 111.7h0M188.5 113.4h0M190.5 113.0h0M189.2 113.9h0M186.7 113.7h0M192.1 108.1h0M186.2 82.6h0M194.0 81.5h0M193.6 84.3h0M219.9 135.2h0M214.7 134.2h0M220.0 133.4h0M215.8 133.1h0M217.0 135.3h0M218.0 133.3h0M215.7 134.7h0M219.9 134.1h0M219.7 133.7h0M220.1 132.5h0M216.0 124.7h0M215.1 126.4h0M215.8 124.9h0M217.7 132.9h0M214.7 132.1h0M220.9 127.8h0M215.5 133.1h0M218.6 123.6h0M214.3 118.3h0M217.2 119.0h0M215.3 133.4h0M216.8 133.4h0M214.5 126.7h0M214.5 128.6h0M215.9 130.6h0M217.5 129.6h0M218.7 119.7h0M220.6 126.4h0M216.9 117.5h0M214.2 132.1h0M214.5 125.9h0M214.5 129.5h0M214.4 124.2h0M217.1 121.0h0M218.8 131.6h0M216.5 128.4h0M218.1 127.9h0M217.1 133.4h0M217.1 115.4h0M220.7 131.0h0M219.0 131.6h0M214.7 116.3h0M217.3 133.5h0M218.7 117.2h0M214.1 117.7h0M218.4 125.9h0M214.9 118.9h0M217.2 122.7h0M216.8 130.8h0M218.1 125.7h0M214.1 103.1h0M215.1 106.7h0M219.2 110.1h0M220.9 108.2h0M215.0 106.1h0M217.5 93.9h0M221.0 114.2h0M219.0 111.2h0M217.2 104.9h0M215.5 110.7h0M214.6 104.3h0M217.5 111.4h0M220.0 95.5h0M220.3 93.9h0M223.9 135.7h0M225.6 132.5h0M229.0 135.4h0M224.5 134.3h0M229.1 133.5h0M229.5 135.5h0M230.1 135.0h0M227.6 132.5h0M228.3 135.1h0M227.9 134.2h0M223.3 134.5h0M228.1 132.4h0M224.8 131.5h0M227.5 127.8h0M225.7 132.2h0M229.4 125.8h0M225.4 127.6h0M229.1 130.1h0M226.7 123.5h0M224.1 132.9h0M228.2 123.3h0M223.0 130.4h0M227.4 129.7h0M228.2 130.9h0M227.9 131.6h0M223.1 127.8h0M228.9 131.7h0M225.5 125.1h0M227.4 128.6h0M226.7 133.1h0M228.8 126.7h0M229.0 102.8h0M225.6 114.6h0M226.2 121.5h0M225.5 113.6h0M227.8 100.9h0M223.5 111.5h0M226.2 106.8h0M224.8 109.6h0M227.9 101.2h0M229.7 103.1h0M226.5 112.4h0M227.7 122.2h0M223.0 95.7h0M224.0 107.7h0M214.2 66.5h0M228.2 73.4h0M221.5 83.0h0M217.5 86.5h0M217.3 88.0h0M214.5 93.5h0M217.5 92.5h0M252.4 139.5h0M252.3 138.6h0M251.3 138.2h0M252.2 138.7h0M252.6 137.0h0M251.0 135.7h0M252.8 136.2h0M251.5 134.6h0M251.7 129.3h0M251.0 130.9h0M251.0 132.7h0M263.9 138.5h0M257.4 137.3h0M262.0 138.8h0M263.7 137.1h0M265.2 135.8h0M262.9 137.9h0M265.8 136.6h0M258.4 136.1h0M263.3 138.3h0M258.0 139.2h0M261.2 138.3h0M258.5 138.3h0M256.7 137.5h0M258.2 138.2h0M258.3 137.4h0M264.9 138.7h0M261.1 127.8h0M263.9 134.3h0M261.4 130.9h0M259.0 134.9h0M258.1 126.5h0M255.9 129.7h0M265.7 126.2h0M264.0 136.2h0M256.4 121.4h0M266.1 136.6h0M265.3 121.5h0M264.8 125.4h0M255.9 130.1h0M260.4 123.6h0M263.5 130.8h0M263.4 123.2h0M262.4 134.3h0M264.3 122.2h0M264.9 122.5h0M260.3 125.2h0M261.6 123.2h0M265.8 122.0h0M265.4 133.7h0M264.4 135.2h0M264.7 125.8h0M256.0 132.6h0M257.5 132.3h0M262.3 133.2h0M265.5 120.3h0M261.6 108.6h0M265.8 117.3h0M260.8 110.0h0M258.8 116.5h0M258.0 108.5h0M265.2 115.0h0M265.5 102.0h0M261.2 119.7h0M257.8 116.9h0M264.2 112.8h0M265.5 114.1h0M259.4 115.4h0M263.5 110.1h0M255.2 109.3h0M264.4 119.9h0M261.5 114.0h0M256.6 99.8h0M257.2 118.6h0M265.1 99.0h0M254.7 78.8h0M254.5 87.4h0M258.0 90.0h0M290.9 133.3h0M288.5 134.1h0M286.8 133.9h0M286.8 133.8h0M287.9 136.7h0M288.9 136.1h0M289.0 135.5h0M287.7 134.2h0M290.0 134.7h0M286.6 136.1h0M289.5 130.4h0M290.9 127.2h0M287.8 119.2h0M289.9 129.8h0M288.2 130.7h0M287.9 130.9h0M288.2 127.9h0M288.2 129.7h0M291.8 121.5h0M289.7 122.4h0M290.2 125.3h0M292.0 128.2h0M292.0 126.6h0M287.4 123.1h0M292.0 130.2h0M285.6 129.6h0M287.1 117.6h0M288.0 127.4h0M290.7 113.2h0M290.3 111.4h0M286.8 112.0h0M288.8 116.0h0M287.3 111.7h0M286.9 113.4h0M295.5 133.1h0M301.3 133.0h0M296.5 132.5h0M297.6 135.0h0M299.0 133.8h0M298.4 131.8h0M298.8 131.9h0M297.0 132.6h0M294.8 134.4h0M299.7 132.9h0M300.8 134.1h0M296.4 134.2h0M295.2 130.3h0M301.8 131.0h0M297.7 121.2h0M294.2 131.7h0M298.4 122.7h0M295.8 124.6h0M296.8 121.7h0M294.0 124.6h0M296.9 129.6h0M299.1 130.2h0M301.7 123.2h0M295.5 131.8h0M300.4 128.1h0M296.9 123.5h0M299.6 128.0h0M294.1 124.7h0M296.9 127.1h0M294.8 133.0h0M294.0 118.8h0M297.3 107.9h0M294.4 117.6h0M294.5 101.0h0M297.9 116.1h0M294.9 119.4h0M294.0 118.1h0M297.9 110.8h0M296.7 112.4h0M296.1 114.1h0M294.0 100.5h0M295.9 119.3h0M298.3 106.8h0M294.1 105.4h0M302.4 83.7h0M300.7 87.5h0M320.4 137.8h0M320.2 139.1h0M320.6 141.0h0M318.5 139.4h0M317.5 138.6h0M317.2 139.2h0M318.1 140.4h0M320.4 130.4h0M316.8 135.2h0M317.6 135.1h0M320.4 134.3h0M318.8 135.5h0M318.5 133.4h0M318.0 135.9h0M317.9 135.0h0M318.6 122.2h0M320.6 119.1h0M317.3 120.7h0M318.6 122.0h0M317.9 129.1h0M317.5 118.5h0M325.5 136.9h0M328.0 139.8h0M326.5 138.3h0M323.7 137.8h0M327.5 139.5h0M325.0 139.7h0M326.8 136.8h0M327.9 138.7h0M326.5 138.7h0M324.3 135.7h0M326.5 133.8h0M324.3 129.2h0M328.0 136.8h0M324.8 137.3h0M327.0 137.4h0M325.3 135.8h0M326.8 128.1h0M327.7 137.4h0M327.2 133.1h0M328.2 134.1h0M323.5 136.2h0M326.2 128.4h0M323.0 136.7h0M326.2 137.0h0M327.1 137.5h0M324.2 115.4h0M323.3 119.1h0M325.6 106.2h0M325.5 123.3h0M327.1 106.7h0M325.0 108.0h0M328.0 126.4h0M323.8 111.5h0M327.8 121.5h0M324.7 123.5h0M327.2 119.0h0M324.3 114.8h0M318.0 57.0h0M328.0 80.5h0M345.0 130.8h0M349.8 130.4h0M346.2 131.5h0M344.9 130.2h0M348.5 130.2h0M348.6 130.6h0M344.6 129.2h0M347.0 129.9h0M347.3 130.7h0M344.9 130.6h0M346.7 131.3h0M347.1 122.1h0M344.5 128.4h0M348.6 121.0h0M348.2 120.8h0M350.7 111.1h0M349.5 121.7h0M348.8 120.3h0M350.9 129.0h0M349.0 118.6h0M344.7 121.4h0M345.0 127.7h0M348.1 115.2h0M349.0 129.4h0M344.3 114.2h0M347.5 121.7h0M348.8 116.1h0M349.0 121.3h0M344.3 121.7h0M345.3 119.6h0M345.7 123.3h0M348.3 127.9h0M344.3 110.1h0M350.7 126.3h0M348.9 116.0h0M346.6 117.3h0M344.3 108.5h0M351.6 117.1h0M345.0 125.7h0M346.1 109.0h0M347.9 114.9h0M348.2 125.6h0M349.4 124.6h0M345.4 109.0h0M344.5 129.2h0M347.5 117.2h0M344.3 128.7h0M350.7 112.6h0M344.3 129.1h0M349.6 112.2h0M347.9 116.3h0M346.0 123.5h0M347.4 109.8h0M347.9 116.6h0M345.1 129.4h0M344.8 109.1h0M348.8 127.9h0M349.5 116.0h0M347.6 118.2h0M347.5 108.5h0M348.5 129.0h0M348.0 128.7h0M350.6 121.7h0M348.9 118.5h0M344.3 123.7h0M345.1 108.7h0M350.9 114.3h0M347.9 111.0h0M344.3 119.6h0M344.8 119.2h0M344.4 124.9h0M344.3 107.2h0M347.0 107.7h0M349.6 98.9h0M348.8 104.5h0M344.5 98.0h0M347.1 102.5h0M351.6 92.0h0M352.0 106.7h0M348.5 93.2h0M351.9 92.0h0M356.4 129.4h0M354.7 128.1h0M356.0 130.7h0M357.7 130.3h0M354.5 129.2h0M355.1 130.9h0M355.3 129.4h0M358.0 121.0h0M355.0 121.8h0M355.4 125.6h0M356.8 128.1h0M356.3 121.8h0M357.3 126.0h0M354.5 120.6h0M354.5 123.0h0M355.3 122.4h0M355.7 125.2h0M356.4 129.1h0M354.6 128.3h0M355.3 124.5h0M354.0 120.8h0M355.3 126.6h0M355.1 118.9h0M356.0 115.1h0M357.5 116.5h0M357.8 118.7h0M355.3 116.3h0M357.2 117.7h0M347.3 57.2h0M351.8 73.2h0M347.3 79.0h0M347.5 90.3h0M353.3 92.4h0M357.3 94.0h0M373.6 147.6h0M373.6 148.1h0M374.3 148.1h0M374.1 145.3h0M373.7 147.3h0M372.4 147.5h0M372.6 140.3h0M372.3 142.4h0M373.0 144.1h0M372.7 142.2h0M374.2 145.0h0M373.4 145.6h0M373.3 134.0h0M373.7 134.0h0M373.9 133.6h0M374.8 133.6h0M378.4 135.6h0M377.8 137.7h0M379.0 137.8h0M378.5 138.2h0M380.7 137.9h0M381.4 136.3h0M381.3 136.7h0M381.2 137.4h0M380.3 135.9h0M378.6 135.8h0M382.4 131.8h0M383.6 127.2h0M380.8 130.3h0M378.4 124.0h0M381.2 134.8h0M381.7 120.2h0M380.4 118.2h0M379.5 118.0h0M380.8 125.9h0M384.0 134.1h0M379.5 134.1h0M378.2 121.7h0M381.1 133.1h0M381.4 114.2h0M380.1 123.6h0M378.1 130.3h0M383.1 134.9h0M380.3 125.8h0M381.2 131.0h0M381.2 132.1h0M383.1 135.9h0M380.4 131.8h0M381.0 112.7h0M383.2 109.9h0M380.6 112.5h0M380.8 112.0h0M382.5 110.0h0M379.7 111.7h0M383.8 58.8h0M382.0 65.7h0M384.0 78.4h0M380.9 86.0h0M382.4 91.0h0M401.1 131.8h0M399.5 132.3h0M403.1 132.6h0M396.7 133.7h0M403.4 130.6h0M403.8 132.0h0M400.6 133.7h0M397.6 131.6h0M396.2 132.3h0M398.3 130.6h0M396.4 130.6h0M394.8 133.5h0M399.4 132.1h0M395.4 131.8h0M403.8 133.9h0M399.9 128.2h0M399.6 124.0h0M400.9 117.9h0M400.2 118.4h0M400.5 131.6h0M395.2 128.0h0M401.6 117.6h0M396.4 124.3h0M398.1 129.1h0M399.6 125.3h0M404.8 122.3h0M400.7 124.7h0M398.5 123.0h0M396.4 128.1h0M400.8 114.6h0M395.0 114.9h0M396.7 119.0h0M403.5 123.3h0M398.8 104.4h0M400.9 111.1h0M398.7 102.9h0M397.5 108.7h0M397.1 100.5h0M399.3 111.6h0M398.8 110.4h0M401.2 109.7h0M397.3 111.3h0M396.7 112.3h0M402.6 107.5h0M395.2 108.4h0M403.6 59.2h0M398.2 77.3h0M395.0 92.6h0M400.0 92.6h0M416.2 146.8h0M416.4 145.0h0M416.2 145.1h0M417.8 144.2h0M417.5 144.1h0M416.7 145.6h0M417.5 147.0h0M415.9 142.1h0M414.7 143.4h0M417.4 138.1h0M417.7 139.4h0M415.7 139.7h0M416.0 143.7h0M416.5 135.3h0M416.2 137.3h0M416.3 141.5h0M416.1 140.4h0M416.4 108.1h0M414.5 115.5h0M415.0 118.9h0M416.3 110.7h0M415.8 117.2h0M416.0 112.0h0M418.9 103.7h0M415.2 120.5h0M416.5 108.8h0M417.2 108.6h0M415.6 112.4h0M415.9 125.0h0M421.3 148.3h0M424.4 148.2h0M421.9 147.1h0M421.9 148.7h0M422.9 150.0h0M422.2 150.0h0M421.8 150.5h0M424.1 136.0h0M423.1 139.1h0M422.3 148.0h0M424.1 141.4h0M423.0 147.0h0M423.6 140.8h0M423.6 140.9h0M422.6 137.3h0M422.0 133.1h0M424.5 111.9h0M424.4 127.5h0M421.1 131.4h0M424.2 128.9h0M423.7 119.0h0M421.1 123.0h0M423.8 118.0h0M436.9 141.5h0M438.3 139.5h0M436.7 140.2h0M437.2 142.7h0M442.4 142.3h0M440.3 140.9h0M439.0 141.8h0M437.3 140.5h0M438.8 140.8h0M441.7 142.8h0M440.5 139.4h0M436.3 135.7h0M438.0 134.8h0M441.6 137.2h0M439.5 134.6h0M439.5 138.4h0M436.9 130.1h0M439.9 139.5h0M439.5 130.0h0M438.7 134.9h0M439.1 104.0h0M441.8 123.7h0M438.9 111.9h0M438.4 121.7h0M439.2 125.4h0M440.5 128.6h0M439.4 115.1h0M440.2 120.7h0M439.4 124.1h0M439.3 120.0h0M439.1 124.7h0M438.2 121.5h0M436.8 109.7h0M441.2 104.1h0M441.0 109.9h0M440.0 112.8h0M438.3 124.3h0M438.4 102.6h0M436.6 74.2h0M459.9 134.8h0M458.6 133.6h0M460.5 136.5h0M457.5 136.7h0M458.2 136.2h0M459.1 135.7h0M455.0 133.7h0M455.7 136.0h0M458.0 136.8h0M458.9 134.0h0M455.4 132.7h0M458.2 128.7h0M456.9 132.1h0M459.5 132.1h0M458.8 129.1h0M459.6 129.5h0M458.6 127.8h0M459.8 132.6h0M459.1 133.3h0M459.0 127.3h0M460.3 134.0h0M458.3 121.4h0M455.3 123.3h0M455.9 118.5h0M459.2 124.0h0M457.3 123.3h0M456.9 119.1h0M460.0 118.7h0M455.2 111.8h0M458.1 116.8h0M459.5 120.2h0M458.6 123.6h0M459.1 119.1h0M458.1 114.6h0M460.5 117.0h0M460.0 100.8h0M460.5 103.7h0M459.8 114.0h0M455.5 117.0h0M456.0 122.0h0M473.5 135.6h0M473.9 134.3h0M470.0 134.6h0M472.3 134.0h0M471.1 137.1h0M474.6 134.8h0M470.9 134.6h0M472.4 136.5h0M470.4 135.9h0M473.3 130.1h0M475.2 128.8h0M473.3 129.7h0M470.9 133.2h0M475.0 131.5h0M471.4 134.8h0M472.6 131.8h0M471.5 134.0h0M469.8 124.4h0M474.7 127.6h0M472.6 127.2h0M474.7 126.0h0M474.0 124.9h0M471.6 126.9h0M474.3 124.8h0M472.3 123.5h0M489.2 132.5h0M485.1 134.9h0M486.9 132.4h0M485.0 135.4h0M488.2 134.1h0M492.4 132.3h0M487.0 132.7h0M488.0 132.6h0M490.7 135.3h0M489.0 133.9h0M488.9 133.4h0M491.0 134.0h0M489.5 132.4h0M487.5 128.5h0M488.9 125.3h0M484.6 129.5h0M491.0 128.3h0M485.9 132.1h0M490.1 125.4h0M484.9 128.9h0M487.1 131.4h0M486.8 132.4h0M486.2 130.5h0M489.1 124.4h0M486.2 132.3h0M489.4 119.2h0M486.7 117.5h0M492.1 121.4h0M489.0 110.6h0M491.6 115.0h0M485.7 111.7h0M486.8 119.1h0M491.8 123.9h0M485.5 116.6h0M484.6 124.0h0M490.5 114.5h0M493.9 120.2h0M491.8 93.2h0" stroke="#104E8B" stroke-width="3.3" stroke-linecap="round" fill="none"/><path d="M128.3 146.2h0M122.5 145.3h0M114.5 146.3h0M121.0 143.4h0M116.2 143.1h0M142.0 140.7h0M141.8 139.9h0M147.6 139.3h0M158.3 143.0h0M164.9 144.9h0M170.9 143.2h0M181.4 148.5h0M188.1 139.9h0M201.3 145.8h0M208.1 146.8h0M209.6 143.6h0M215.8 143.8h0M224.4 145.1h0M238.9 142.5h0M243.4 145.4h0M242.0 145.3h0M265.0 145.4h0M259.5 148.1h0M270.1 145.4h0M280.4 140.4h0M288.6 143.4h0M299.4 139.7h0M297.9 143.3h0M306.7 139.7h0M318.4 148.3h0M324.4 148.7h0M335.6 136.9h0M337.3 138.2h0M346.2 138.6h0M355.6 139.4h0M362.6 141.3h0M367.5 146.2h0M373.5 151.6h0M380.1 147.5h0M389.2 129.7h0M398.3 139.8h0M395.6 138.3h0M417.5 150.9h0M424.1 153.7h0M429.1 148.3h0M440.3 150.8h0M449.6 142.6h0M459.4 146.4h0M464.6 131.5h0M471.1 144.4h0M478.5 130.4h0M488.7 140.0h0M485.8 141.1h0" stroke="#fff" stroke-width="2.6" stroke-linecap="round" fill="none" opacity="0.85"/><line x1="74" x2="505.3" y1="139.8" y2="139.8" stroke="#F04A4A" stroke-width="1.3"/><line x1="105.1" x2="105.1" y1="160.3" y2="166.3" stroke="#707070" stroke-width="1"/><text x="105.1" y="182.6" font-size="10" fill="#222" text-anchor="middle" stroke="#222" stroke-width="0.25">1</text><line x1="128.7" x2="128.7" y1="160.3" y2="166.3" stroke="#707070" stroke-width="1"/><text x="128.7" y="182.6" font-size="10" fill="#222" text-anchor="middle" stroke="#222" stroke-width="0.25">2</text><line x1="142.7" x2="142.7" y1="160.3" y2="166.3" stroke="#707070" stroke-width="1"/><line x1="169.5" x2="169.5" y1="160.3" y2="166.3" stroke="#707070" stroke-width="1"/><text x="169.5" y="182.6" font-size="10" fill="#222" text-anchor="middle" stroke="#222" stroke-width="0.25">4</text><line x1="187.6" x2="187.6" y1="160.3" y2="166.3" stroke="#707070" stroke-width="1"/><text x="187.6" y="182.6" font-size="10" fill="#222" text-anchor="middle" stroke="#222" stroke-width="0.25">5</text><line x1="206.0" x2="206.0" y1="160.3" y2="166.3" stroke="#707070" stroke-width="1"/><text x="206.0" y="182.6" font-size="10" fill="#222" text-anchor="middle" stroke="#222" stroke-width="0.25">6</text><line x1="217.8" x2="217.8" y1="160.3" y2="166.3" stroke="#707070" stroke-width="1"/><line x1="244.2" x2="244.2" y1="160.3" y2="166.3" stroke="#707070" stroke-width="1"/><text x="244.2" y="182.6" font-size="10" fill="#222" text-anchor="middle" stroke="#222" stroke-width="0.25">8</text><line x1="263.5" x2="263.5" y1="160.3" y2="166.3" stroke="#707070" stroke-width="1"/><text x="263.5" y="182.6" font-size="10" fill="#222" text-anchor="middle" stroke="#222" stroke-width="0.25">9</text><line x1="274.9" x2="274.9" y1="160.3" y2="166.3" stroke="#707070" stroke-width="1"/><line x1="293.6" x2="293.6" y1="160.3" y2="166.3" stroke="#707070" stroke-width="1"/><text x="293.6" y="182.6" font-size="10" fill="#222" text-anchor="middle" stroke="#222" stroke-width="0.25">11</text><line x1="309.1" x2="309.1" y1="160.3" y2="166.3" stroke="#707070" stroke-width="1"/><line x1="325.8" x2="325.8" y1="160.3" y2="166.3" stroke="#707070" stroke-width="1"/><text x="325.8" y="182.6" font-size="10" fill="#222" text-anchor="middle" stroke="#222" stroke-width="0.25">13</text><line x1="338.5" x2="338.5" y1="160.3" y2="166.3" stroke="#707070" stroke-width="1"/><line x1="353.2" x2="353.2" y1="160.3" y2="166.3" stroke="#707070" stroke-width="1"/><text x="353.2" y="182.6" font-size="10" fill="#222" text-anchor="middle" stroke="#222" stroke-width="0.25">15</text><line x1="365.8" x2="365.8" y1="160.3" y2="166.3" stroke="#707070" stroke-width="1"/><line x1="381.5" x2="381.5" y1="160.3" y2="166.3" stroke="#707070" stroke-width="1"/><text x="381.5" y="182.6" font-size="10" fill="#222" text-anchor="middle" stroke="#222" stroke-width="0.25">17</text><line x1="390.0" x2="390.0" y1="160.3" y2="166.3" stroke="#707070" stroke-width="1"/><line x1="399.1" x2="399.1" y1="160.3" y2="166.3" stroke="#707070" stroke-width="1"/><line x1="409.2" x2="409.2" y1="160.3" y2="166.3" stroke="#707070" stroke-width="1"/><text x="409.2" y="182.6" font-size="10" fill="#222" text-anchor="middle" stroke="#222" stroke-width="0.25">20</text><line x1="423.0" x2="423.0" y1="160.3" y2="166.3" stroke="#707070" stroke-width="1"/><line x1="435.1" x2="435.1" y1="160.3" y2="166.3" stroke="#707070" stroke-width="1"/><text x="435.1" y="182.6" font-size="10" fill="#222" text-anchor="middle" stroke="#222" stroke-width="0.25">22</text><line x1="440.5" x2="440.5" y1="160.3" y2="166.3" stroke="#707070" stroke-width="1"/><line x1="451.3" x2="451.3" y1="160.3" y2="166.3" stroke="#707070" stroke-width="1"/><line x1="458.6" x2="458.6" y1="160.3" y2="166.3" stroke="#707070" stroke-width="1"/><text x="458.6" y="182.6" font-size="10" fill="#222" text-anchor="middle" stroke="#222" stroke-width="0.25">25</text><line x1="466.9" x2="466.9" y1="160.3" y2="166.3" stroke="#707070" stroke-width="1"/><line x1="472.4" x2="472.4" y1="160.3" y2="166.3" stroke="#707070" stroke-width="1"/><line x1="481.8" x2="481.8" y1="160.3" y2="166.3" stroke="#707070" stroke-width="1"/><text x="481.8" y="182.6" font-size="10" fill="#222" text-anchor="middle" stroke="#222" stroke-width="0.25">28</text><line x1="491.8" x2="491.8" y1="160.3" y2="166.3" stroke="#707070" stroke-width="1"/><text x="289.2" y="208.1" font-size="10.5" fill="#222" text-anchor="middle" stroke="#222" stroke-width="0.25">Chromosome</text></svg></body></html>
